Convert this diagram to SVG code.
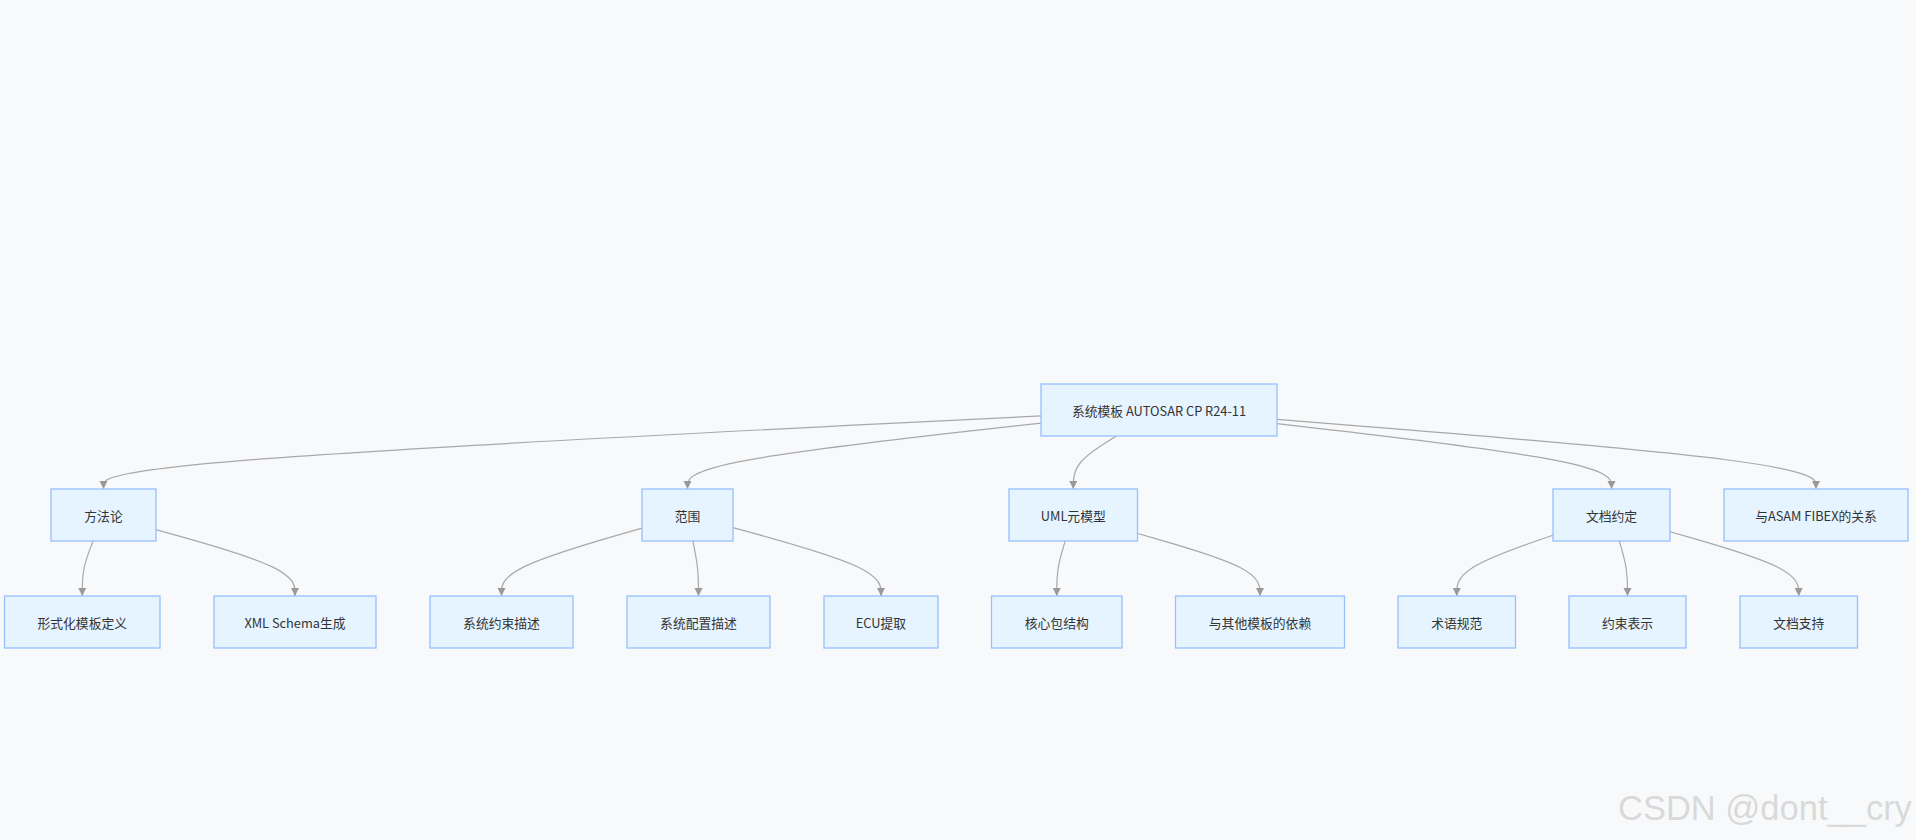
<svg xmlns="http://www.w3.org/2000/svg" width="1916" height="840" viewBox="0 0 1916 840">
<style>
.node rect{fill:#e6f4ff;stroke:#96c0ff;stroke-width:1.3}
.node text{font-family:"Noto Sans CJK SC","Liberation Sans",sans-serif;font-size:12.8px;fill:#333;text-anchor:middle;dominant-baseline:central}
.edge{fill:none;stroke:#a8a8a8;stroke-width:1.2;marker-end:url(#arr)}
.wm{font-family:"Liberation Sans",Arial,sans-serif;font-size:34.5px;fill:#d9d9d9}
</style>
<defs>
<marker id="arr" viewBox="0 0 10 10" refX="10" refY="5" markerWidth="8.5" markerHeight="8.5" markerUnits="userSpaceOnUse" orient="auto">
<path d="M0,0 L10,5 L0,10 z" fill="#999"/>
</marker>
</defs>
<rect width="1916" height="840" fill="#f8f9fb"/>
<g id="connectors">
<path class="edge" d="M1041,415.9 L884.75,423.67 C728.5,431.43 416,446.97 259.75,459.15 C103.5,471.33 103.5,480.17 103.5,484.58 L103.5,489"/>
<path class="edge" d="M1041,423.14 L982.08,429.7 C923.17,436.26 805.33,449.38 746.42,460.36 C687.5,471.33 687.5,480.17 687.5,484.58 L687.5,489"/>
<path class="edge" d="M1116.5,436 L1109.29,440.42 C1102.08,444.83 1087.67,453.67 1080.46,462.5 C1073.25,471.33 1073.25,480.17 1073.25,484.58 L1073.25,489"/>
<path class="edge" d="M1277,423.69 L1332.75,430.16 C1388.5,436.63 1500,449.56 1555.75,460.45 C1611.5,471.33 1611.5,480.17 1611.5,484.58 L1611.5,489"/>
<path class="edge" d="M1277,419.43 L1366.83,426.61 C1456.67,433.79 1636.33,448.14 1726.17,459.74 C1816,471.33 1816,480.17 1816,484.58 L1816,489"/>
<path class="edge" d="M93.17,541 L91.35,545.58 C89.53,550.17 85.89,559.33 84.07,568.5 C82.25,577.67 82.25,586.83 82.25,591.42 L82.25,596"/>
<path class="edge" d="M156,529.67 L179.17,536.14 C202.33,542.61 248.67,555.56 271.83,566.61 C295,577.67 295,586.83 295,591.42 L295,596"/>
<path class="edge" d="M642,528.09 L618.58,534.83 C595.17,541.56 548.33,555.03 524.92,566.35 C501.5,577.67 501.5,586.83 501.5,591.42 L501.5,596"/>
<path class="edge" d="M692.85,541 L693.79,545.58 C694.73,550.17 696.62,559.33 697.56,568.5 C698.5,577.67 698.5,586.83 698.5,591.42 L698.5,596"/>
<path class="edge" d="M733,527.58 L757.67,534.4 C782.33,541.22 831.67,554.86 856.33,566.26 C881,577.67 881,586.83 881,591.42 L881,596"/>
<path class="edge" d="M1065.23,541 L1063.82,545.58 C1062.4,550.17 1059.58,559.33 1058.16,568.5 C1056.75,577.67 1056.75,586.83 1056.75,591.42 L1056.75,596"/>
<path class="edge" d="M1137.75,533.48 L1158.13,539.32 C1178.5,545.15 1219.25,556.83 1239.63,567.25 C1260,577.67 1260,586.83 1260,591.42 L1260,596"/>
<path class="edge" d="M1553,535.22 L1536.96,540.77 C1520.92,546.31 1488.83,557.41 1472.79,567.54 C1456.75,577.67 1456.75,586.83 1456.75,591.42 L1456.75,596"/>
<path class="edge" d="M1619.28,541 L1620.65,545.58 C1622.02,550.17 1624.76,559.33 1626.13,568.5 C1627.5,577.67 1627.5,586.83 1627.5,591.42 L1627.5,596"/>
<path class="edge" d="M1670,531.71 L1691.46,537.84 C1712.92,543.97 1755.83,556.24 1777.29,566.95 C1798.75,577.67 1798.75,586.83 1798.75,591.42 L1798.75,596"/>
</g>
<g id="root" class="node"><rect x="1041" y="384" width="236" height="52"/><text x="1159" y="410">系统模板 AUTOSAR CP R24-11</text></g>
<g id="methodology" class="node"><rect x="51" y="489" width="105" height="52"/><text x="103.5" y="515">方法论</text></g>
<g id="scope" class="node"><rect x="642" y="489" width="91" height="52"/><text x="687.5" y="515">范围</text></g>
<g id="uml" class="node"><rect x="1009" y="489" width="128.5" height="52"/><text x="1073.25" y="515">UML元模型</text></g>
<g id="docconv" class="node"><rect x="1553" y="489" width="117" height="52"/><text x="1611.5" y="515">文档约定</text></g>
<g id="fibex" class="node"><rect x="1724" y="489" width="184" height="52"/><text x="1816" y="515">与ASAM FIBEX的关系</text></g>
<g id="formal" class="node"><rect x="4.5" y="596" width="155.5" height="52"/><text x="82.25" y="622">形式化模板定义</text></g>
<g id="xmlschema" class="node"><rect x="214" y="596" width="162" height="52"/><text x="295" y="622">XML Schema生成</text></g>
<g id="sysconstraint" class="node"><rect x="430" y="596" width="143" height="52"/><text x="501.5" y="622">系统约束描述</text></g>
<g id="sysconfig" class="node"><rect x="627" y="596" width="143" height="52"/><text x="698.5" y="622">系统配置描述</text></g>
<g id="ecu" class="node"><rect x="824" y="596" width="114" height="52"/><text x="881" y="622">ECU提取</text></g>
<g id="corepkg" class="node"><rect x="991.5" y="596" width="130.5" height="52"/><text x="1056.75" y="622">核心包结构</text></g>
<g id="deps" class="node"><rect x="1175.5" y="596" width="169" height="52"/><text x="1260" y="622">与其他模板的依赖</text></g>
<g id="terms" class="node"><rect x="1398" y="596" width="117.5" height="52"/><text x="1456.75" y="622">术语规范</text></g>
<g id="constraintrep" class="node"><rect x="1569" y="596" width="117" height="52"/><text x="1627.5" y="622">约束表示</text></g>
<g id="docsupport" class="node"><rect x="1740" y="596" width="117.5" height="52"/><text x="1798.75" y="622">文档支持</text></g>
<text class="wm" x="1618" y="820">CSDN @dont__cry</text>
</svg>
